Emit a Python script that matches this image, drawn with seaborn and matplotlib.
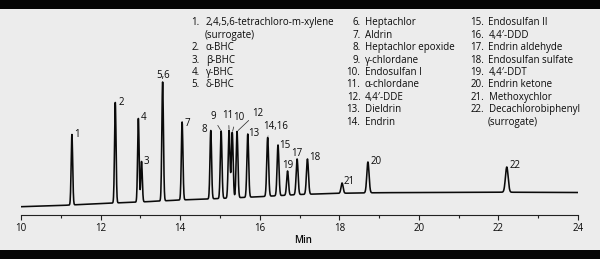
import numpy as np
import pandas as pd
import matplotlib
matplotlib.use("Agg")
import matplotlib.pyplot as plt
import seaborn as sns

# ---- data ----
peak_labels = ['1', '2', '4', '3', '5,6', '7', '8', '9', '11', '10', '12', '13',
               '14,16', '15', '19', '17', '18', '21', '20', '22']
peak_times = [11.28, 12.37, 12.95, 13.03, 13.56, 14.05, 14.77, 15.03, 15.23, 15.31,
              15.43, 15.70, 16.20, 16.46, 16.70, 16.94, 17.20, 18.07, 18.72, 22.21]
peak_apex = [80, 112, 96, 53, 132.5, 92.5, 84, 83.5, 84, 82,
             83, 80.5, 77, 69.5, 43.5, 55.5, 55.5, 31.5, 52.5, 47.5]
peak_sigma = [0.019, 0.019, 0.019, 0.019, 0.02, 0.02, 0.02, 0.021, 0.022, 0.022,
              0.022, 0.022, 0.023, 0.023, 0.023, 0.024, 0.025, 0.026, 0.028, 0.034]
baseline_t = [10, 11, 12, 13, 14, 15, 16, 17, 18, 19, 20, 22, 24]
baseline_v = [7.8, 9.0, 11.0, 12.5, 14.5, 16.0, 17.8, 20.0, 21.2, 21.8, 22.0, 22.3, 22.0]

x_ticks = [10, 12, 14, 16, 18, 20, 22, 24]
x_label = "Min"

legend_col1 = [("1.", "2,4,5,6-tetrachloro-m-xylene"), ("", "(surrogate)"), ("2.", "α-BHC"),
               ("3.", "β-BHC"), ("4.", "γ-BHC"), ("5.", "δ-BHC")]
legend_col2 = [("6.", "Heptachlor"), ("7.", "Aldrin"), ("8.", "Heptachlor epoxide"),
               ("9.", "γ-chlordane"), ("10.", "Endosulfan I"), ("11.", "α-chlordane"),
               ("12.", "4,4′-DDE"), ("13.", "Dieldrin"), ("14.", "Endrin")]
legend_col3 = [("15.", "Endosulfan II"), ("16.", "4,4′-DDD"), ("17.", "Endrin aldehyde"),
               ("18.", "Endosulfan sulfate"), ("19.", "4,4′-DDT"), ("20.", "Endrin ketone"),
               ("21.", "Methoxychlor"), ("22.", "Decachlorobiphenyl"), ("", "(surrogate)")]

# label offsets (pixels: dx right, dy down) relative to each apex, and leader relpos
label_offsets = {
    '1': (5, 0, None), '2': (6, 0, None), '4': (5, -1, None), '3': (5, 0, None),
    '5,6': (0.5, -7, None), '7': (5.5, 1, None), '8': (-6, -1.5, None),
    '9': (-7.7, -15, (0.75, 0.1)), '11': (-1, -14.5, (0.55, 0.1)),
    '10': (6.7, -15, (0.15, 0.1)), '12': (21, -18.5, (0.0, 0.15)),
    '13': (5.6, -0.7, None), '14,16': (8, -11, (0.25, 0.1)), '15': (7, 0, None),
    '19': (0.5, -5, None), '17': (0, -6, None), '18': (7, -1, None),
    '21': (7, -2, None), '20': (8.5, 0, None), '22': (8.5, -1, None),
}

# ---- build trace ----
t = np.linspace(10, 24, 2801)
base = np.interp(t, baseline_t, baseline_v)
signal = base.copy()
for tt, ap, sg in zip(peak_times, peak_apex, peak_sigma):
    amp = ap - np.interp(tt, baseline_t, baseline_v)
    signal += amp * np.exp(-0.5 * ((t - tt) / sg) ** 2)
df = pd.DataFrame({"t": t, "signal": signal})

# ---- figure ----
sns.set_style("white")
plt.rcParams["font.family"] = ["Open Sans", "DejaVu Sans"]
W, H = 600, 259
fig = plt.figure(figsize=(6, 2.59), dpi=100, facecolor="#050505")
bg_color = "#ececec"
fig.patches.append(plt.Rectangle((0, 1 - 250 / H), 1, (250 - 8.5) / H,
                                 transform=fig.transFigure, facecolor=bg_color,
                                 edgecolor="none", zorder=-10))

ax_left, ax_right = 21 / W, 578 / W
ax_bottom = 1 - 214.5 / H
ax_top = 1 - 8.5 / H
ax = fig.add_axes([ax_left, ax_bottom, ax_right - ax_left, ax_top - ax_bottom])
ax.set_zorder(5)
ax.set_facecolor("none")
ax.patch.set_alpha(0)
sns.lineplot(data=df, x="t", y="signal", ax=ax, color="#0a0a0a", lw=1.15)
ax.set_xlim(10, 24)
ax.set_ylim(0, 214.5 - 8.5)
for s in ["top", "left", "right"]:
    ax.spines[s].set_visible(False)
ax.spines["bottom"].set_linewidth(0.8)
ax.spines["bottom"].set_color("#222222")
ax.set_yticks([])
ax.set_xticks(x_ticks)
ax.set_xticklabels([str(v) for v in x_ticks], fontsize=7, color="#0a0a0a")
ax.set_xticks(np.arange(11, 24, 2), minor=True)
ax.tick_params(axis="x", which="major", direction="out", length=3.6, width=0.8,
               pad=2.2, color="#222222", bottom=True)
ax.tick_params(axis="x", which="minor", direction="out", length=1.8, width=0.8,
               color="#222222", bottom=True)
ax.set_xlabel("")
ax.set_ylabel("")
fig.text(303 / W, 1 - 240.5 / H, x_label, fontsize=7, fontweight="semibold",
         ha="center", va="center", color="#0a0a0a")

# peak labels
pt = 0.72  # points per pixel at 100 dpi
for lab, tt, ap in zip(peak_labels, peak_times, peak_apex):
    dx, dy, rel = label_offsets[lab]
    kw = {}
    if rel is not None:
        kw["arrowprops"] = dict(arrowstyle="-", color="#333333", lw=0.55,
                                shrinkA=0.5, shrinkB=1.0, relpos=rel)
    ax.annotate(lab, xy=(tt, ap), xytext=(dx * pt, -dy * pt), textcoords="offset points",
                ha="center", va="center", fontsize=7, color="#0a0a0a", **kw)

# legend text block
row0, dy_row = 22.7, 12.45
cols = [(legend_col1, 199.5, 206), (legend_col2, 360.5, 365), (legend_col3, 484, 488.5)]
for entries, xnum, xtxt in cols:
    for i, (num, txt) in enumerate(entries):
        y = 1 - (row0 + i * dy_row) / H
        if num:
            fig.text(xnum / W, y, num, fontsize=7, ha="right", va="center", color="#0a0a0a")
            fig.text(xtxt / W, y, txt, fontsize=7, ha="left", va="center", color="#0a0a0a")
        else:
            fig.text((xtxt - 1) / W, y, txt, fontsize=7, ha="left", va="center", color="#0a0a0a")

fig.savefig("out.png", dpi=100, facecolor=fig.get_facecolor())
